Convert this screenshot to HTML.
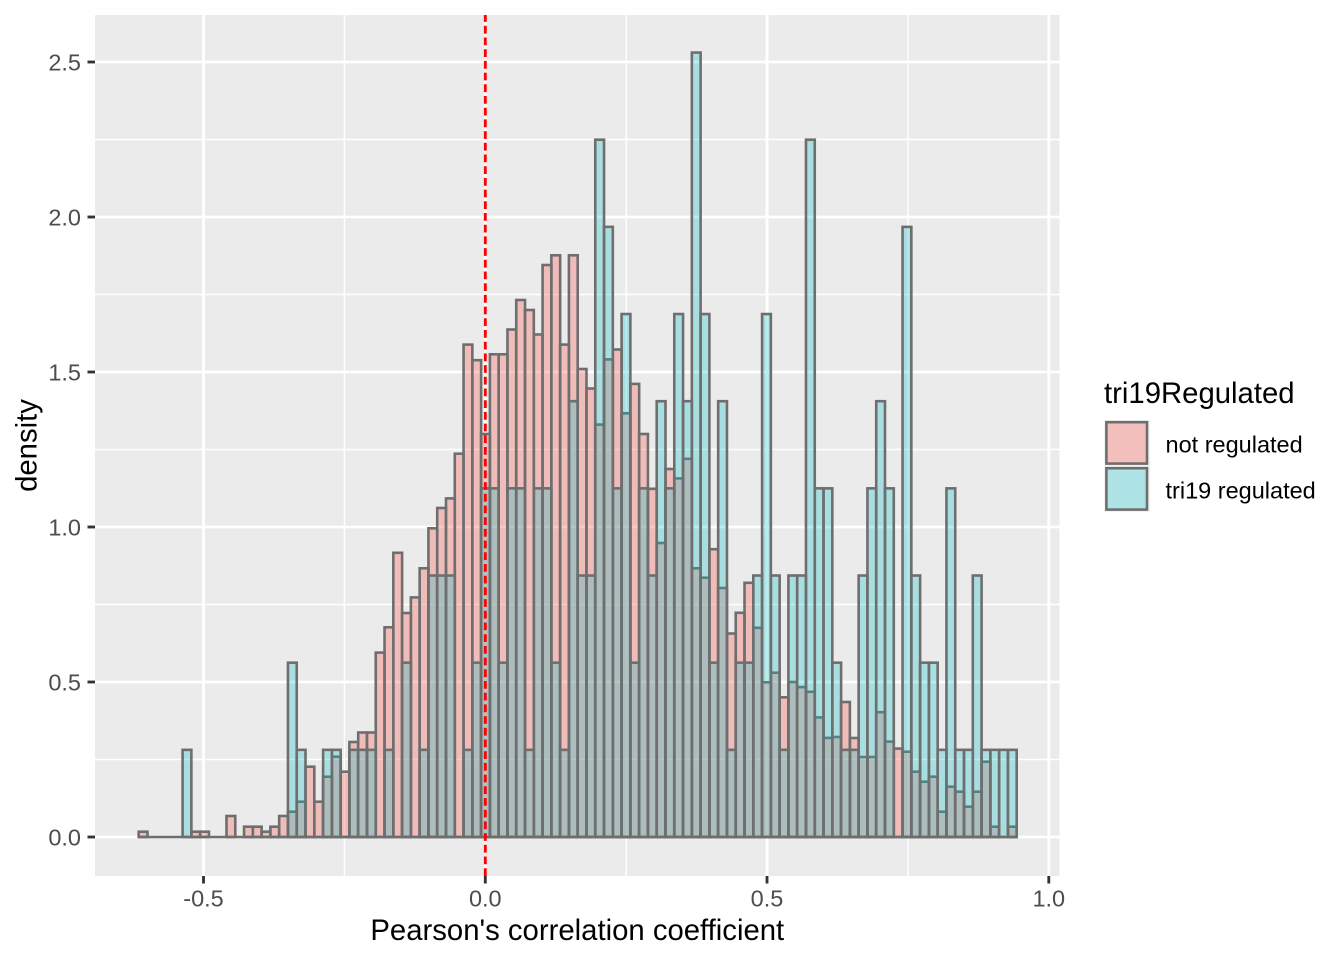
<!DOCTYPE html>
<html><head><meta charset="utf-8"><style>
html,body{margin:0;padding:0;background:#fff;}
svg{display:block;}
text{font-family:"Liberation Sans",Arial,Helvetica,sans-serif;}
</style></head><body>
<svg width="1344" height="960" viewBox="0 0 1344 960" xmlns="http://www.w3.org/2000/svg">
<rect x="0" y="0" width="1344" height="960" fill="#ffffff"/>
<rect x="95" y="15" width="964.5" height="861" fill="#EBEBEB"/>
<g stroke="#ffffff" stroke-width="1.42">
<line x1="95" x2="1059.5" y1="759.5" y2="759.5"/>
<line x1="95" x2="1059.5" y1="604.5" y2="604.5"/>
<line x1="95" x2="1059.5" y1="449.5" y2="449.5"/>
<line x1="95" x2="1059.5" y1="294.5" y2="294.5"/>
<line x1="95" x2="1059.5" y1="139.5" y2="139.5"/>
<line y1="15" y2="876" x1="344.4" x2="344.4"/>
<line y1="15" y2="876" x1="626.2" x2="626.2"/>
<line y1="15" y2="876" x1="907.9" x2="907.9"/>
</g>
<g stroke="#ffffff" stroke-width="2.85">
<line x1="95" x2="1059.5" y1="837" y2="837"/>
<line x1="95" x2="1059.5" y1="682" y2="682"/>
<line x1="95" x2="1059.5" y1="527" y2="527"/>
<line x1="95" x2="1059.5" y1="372" y2="372"/>
<line x1="95" x2="1059.5" y1="217" y2="217"/>
<line x1="95" x2="1059.5" y1="62" y2="62"/>
<line y1="15" y2="876" x1="203.5" x2="203.5"/>
<line y1="15" y2="876" x1="485.3" x2="485.3"/>
<line y1="15" y2="876" x1="767" x2="767"/>
<line y1="15" y2="876" x1="1048.8" x2="1048.8"/>
</g>
<g fill="#F8766D" fill-opacity="0.4" stroke="#6E6E6E" stroke-width="2.6">
<rect x="138.70" y="831.7" width="8.78" height="5.3"/>
<rect x="191.38" y="831.7" width="8.78" height="5.3"/>
<rect x="200.16" y="831.7" width="8.78" height="5.3"/>
<rect x="226.50" y="816" width="8.78" height="21"/>
<rect x="244.06" y="826.7" width="8.78" height="10.3"/>
<rect x="252.84" y="826.7" width="8.78" height="10.3"/>
<rect x="261.62" y="831.7" width="8.78" height="5.3"/>
<rect x="270.40" y="826.7" width="8.78" height="10.3"/>
<rect x="279.18" y="816" width="8.78" height="21"/>
<rect x="287.96" y="811.7" width="8.78" height="25.3"/>
<rect x="296.74" y="801.7" width="8.78" height="35.3"/>
<rect x="305.52" y="766.7" width="8.78" height="70.3"/>
<rect x="314.30" y="801.7" width="8.78" height="35.3"/>
<rect x="323.08" y="776.7" width="8.78" height="60.3"/>
<rect x="331.86" y="756.7" width="8.78" height="80.3"/>
<rect x="340.64" y="771.7" width="8.78" height="65.3"/>
<rect x="349.42" y="742" width="8.78" height="95"/>
<rect x="358.20" y="732.5" width="8.78" height="104.5"/>
<rect x="366.98" y="732.5" width="8.78" height="104.5"/>
<rect x="375.76" y="652.6" width="8.78" height="184.4"/>
<rect x="384.54" y="627.3" width="8.78" height="209.7"/>
<rect x="393.32" y="552.8" width="8.78" height="284.2"/>
<rect x="402.10" y="613" width="8.78" height="224"/>
<rect x="410.88" y="597.4" width="8.78" height="239.6"/>
<rect x="419.66" y="568.3" width="8.78" height="268.7"/>
<rect x="428.44" y="528.3" width="8.78" height="308.7"/>
<rect x="437.22" y="508" width="8.78" height="329"/>
<rect x="446.00" y="498.4" width="8.78" height="338.6"/>
<rect x="454.78" y="453.7" width="8.78" height="383.3"/>
<rect x="463.56" y="344.6" width="8.78" height="492.4"/>
<rect x="472.34" y="360.2" width="8.78" height="476.8"/>
<rect x="481.12" y="434" width="8.78" height="403"/>
<rect x="489.90" y="354.3" width="8.78" height="482.7"/>
<rect x="498.68" y="354.3" width="8.78" height="482.7"/>
<rect x="507.46" y="329.5" width="8.78" height="507.5"/>
<rect x="516.24" y="300" width="8.78" height="537"/>
<rect x="525.02" y="310" width="8.78" height="527"/>
<rect x="533.80" y="334.5" width="8.78" height="502.5"/>
<rect x="542.58" y="265" width="8.78" height="572"/>
<rect x="551.36" y="255.3" width="8.78" height="581.7"/>
<rect x="560.14" y="344.6" width="8.78" height="492.4"/>
<rect x="568.92" y="255.3" width="8.78" height="581.7"/>
<rect x="577.70" y="369" width="8.78" height="468"/>
<rect x="586.48" y="388.5" width="8.78" height="448.5"/>
<rect x="595.26" y="424.6" width="8.78" height="412.4"/>
<rect x="604.04" y="359.4" width="8.78" height="477.6"/>
<rect x="612.82" y="349.5" width="8.78" height="487.5"/>
<rect x="621.60" y="413.3" width="8.78" height="423.7"/>
<rect x="630.38" y="383.9" width="8.78" height="453.1"/>
<rect x="639.16" y="434" width="8.78" height="403"/>
<rect x="647.94" y="488.8" width="8.78" height="348.2"/>
<rect x="656.72" y="543" width="8.78" height="294"/>
<rect x="665.50" y="469" width="8.78" height="368"/>
<rect x="674.28" y="478.4" width="8.78" height="358.6"/>
<rect x="683.06" y="458.8" width="8.78" height="378.2"/>
<rect x="691.84" y="568.3" width="8.78" height="268.7"/>
<rect x="700.62" y="577.7" width="8.78" height="259.3"/>
<rect x="709.40" y="549.2" width="8.78" height="287.8"/>
<rect x="718.18" y="588" width="8.78" height="249"/>
<rect x="726.96" y="633.5" width="8.78" height="203.5"/>
<rect x="735.74" y="612.8" width="8.78" height="224.2"/>
<rect x="744.52" y="582.8" width="8.78" height="254.2"/>
<rect x="753.30" y="627.8" width="8.78" height="209.2"/>
<rect x="762.08" y="682.3" width="8.78" height="154.7"/>
<rect x="770.86" y="672.7" width="8.78" height="164.3"/>
<rect x="779.64" y="697.3" width="8.78" height="139.7"/>
<rect x="788.42" y="682" width="8.78" height="155"/>
<rect x="797.20" y="687.1" width="8.78" height="149.9"/>
<rect x="805.98" y="691.8" width="8.78" height="145.2"/>
<rect x="814.76" y="717.4" width="8.78" height="119.6"/>
<rect x="823.54" y="737.9" width="8.78" height="99.1"/>
<rect x="832.32" y="737" width="8.78" height="100"/>
<rect x="841.10" y="702" width="8.78" height="135"/>
<rect x="849.88" y="738" width="8.78" height="99"/>
<rect x="858.66" y="757" width="8.78" height="80"/>
<rect x="867.44" y="757" width="8.78" height="80"/>
<rect x="876.22" y="712.2" width="8.78" height="124.8"/>
<rect x="885.00" y="741.6" width="8.78" height="95.4"/>
<rect x="893.78" y="748.6" width="8.78" height="88.4"/>
<rect x="902.56" y="751.7" width="8.78" height="85.3"/>
<rect x="911.34" y="771.7" width="8.78" height="65.3"/>
<rect x="920.12" y="781.7" width="8.78" height="55.3"/>
<rect x="928.90" y="776.7" width="8.78" height="60.3"/>
<rect x="937.68" y="811.7" width="8.78" height="25.3"/>
<rect x="946.46" y="786.7" width="8.78" height="50.3"/>
<rect x="955.24" y="791.7" width="8.78" height="45.3"/>
<rect x="964.02" y="806.7" width="8.78" height="30.3"/>
<rect x="972.80" y="791.7" width="8.78" height="45.3"/>
<rect x="981.58" y="761.7" width="8.78" height="75.3"/>
<rect x="990.36" y="826.7" width="8.78" height="10.3"/>
<rect x="1007.92" y="826.7" width="8.78" height="10.3"/>
</g>
<g fill="#00BFC4" fill-opacity="0.28" stroke="#6E6E6E" stroke-width="2.6">
<rect x="182.60" y="749.84" width="8.78" height="87.16"/>
<rect x="287.96" y="662.68" width="8.78" height="174.32"/>
<rect x="296.74" y="749.84" width="8.78" height="87.16"/>
<rect x="323.08" y="749.84" width="8.78" height="87.16"/>
<rect x="331.86" y="749.84" width="8.78" height="87.16"/>
<rect x="349.42" y="749.84" width="8.78" height="87.16"/>
<rect x="358.20" y="749.84" width="8.78" height="87.16"/>
<rect x="366.98" y="749.84" width="8.78" height="87.16"/>
<rect x="384.54" y="749.84" width="8.78" height="87.16"/>
<rect x="402.10" y="662.68" width="8.78" height="174.32"/>
<rect x="419.66" y="749.84" width="8.78" height="87.16"/>
<rect x="428.44" y="575.52" width="8.78" height="261.48"/>
<rect x="437.22" y="575.52" width="8.78" height="261.48"/>
<rect x="446.00" y="575.52" width="8.78" height="261.48"/>
<rect x="463.56" y="749.84" width="8.78" height="87.16"/>
<rect x="472.34" y="662.68" width="8.78" height="174.32"/>
<rect x="481.12" y="488.36" width="8.78" height="348.64"/>
<rect x="489.90" y="488.36" width="8.78" height="348.64"/>
<rect x="498.68" y="662.68" width="8.78" height="174.32"/>
<rect x="507.46" y="488.36" width="8.78" height="348.64"/>
<rect x="516.24" y="488.36" width="8.78" height="348.64"/>
<rect x="525.02" y="749.84" width="8.78" height="87.16"/>
<rect x="533.80" y="488.36" width="8.78" height="348.64"/>
<rect x="542.58" y="488.36" width="8.78" height="348.64"/>
<rect x="551.36" y="662.68" width="8.78" height="174.32"/>
<rect x="560.14" y="749.84" width="8.78" height="87.16"/>
<rect x="568.92" y="401.2" width="8.78" height="435.8"/>
<rect x="577.70" y="575.52" width="8.78" height="261.48"/>
<rect x="586.48" y="575.52" width="8.78" height="261.48"/>
<rect x="595.26" y="139.72" width="8.78" height="697.28"/>
<rect x="604.04" y="226.88" width="8.78" height="610.12"/>
<rect x="612.82" y="488.36" width="8.78" height="348.64"/>
<rect x="621.60" y="314.04" width="8.78" height="522.96"/>
<rect x="630.38" y="662.68" width="8.78" height="174.32"/>
<rect x="639.16" y="488.36" width="8.78" height="348.64"/>
<rect x="647.94" y="575.52" width="8.78" height="261.48"/>
<rect x="656.72" y="401.2" width="8.78" height="435.8"/>
<rect x="665.50" y="488.36" width="8.78" height="348.64"/>
<rect x="674.28" y="314.04" width="8.78" height="522.96"/>
<rect x="683.06" y="401.2" width="8.78" height="435.8"/>
<rect x="691.84" y="52.56" width="8.78" height="784.44"/>
<rect x="700.62" y="314.04" width="8.78" height="522.96"/>
<rect x="709.40" y="662.68" width="8.78" height="174.32"/>
<rect x="718.18" y="401.2" width="8.78" height="435.8"/>
<rect x="726.96" y="749.84" width="8.78" height="87.16"/>
<rect x="735.74" y="662.68" width="8.78" height="174.32"/>
<rect x="744.52" y="662.68" width="8.78" height="174.32"/>
<rect x="753.30" y="575.52" width="8.78" height="261.48"/>
<rect x="762.08" y="314.04" width="8.78" height="522.96"/>
<rect x="770.86" y="575.52" width="8.78" height="261.48"/>
<rect x="779.64" y="749.84" width="8.78" height="87.16"/>
<rect x="788.42" y="575.52" width="8.78" height="261.48"/>
<rect x="797.20" y="575.52" width="8.78" height="261.48"/>
<rect x="805.98" y="139.72" width="8.78" height="697.28"/>
<rect x="814.76" y="488.36" width="8.78" height="348.64"/>
<rect x="823.54" y="488.36" width="8.78" height="348.64"/>
<rect x="832.32" y="662.68" width="8.78" height="174.32"/>
<rect x="841.10" y="749.84" width="8.78" height="87.16"/>
<rect x="849.88" y="749.84" width="8.78" height="87.16"/>
<rect x="858.66" y="575.52" width="8.78" height="261.48"/>
<rect x="867.44" y="488.36" width="8.78" height="348.64"/>
<rect x="876.22" y="401.2" width="8.78" height="435.8"/>
<rect x="885.00" y="488.36" width="8.78" height="348.64"/>
<rect x="902.56" y="226.88" width="8.78" height="610.12"/>
<rect x="911.34" y="575.52" width="8.78" height="261.48"/>
<rect x="920.12" y="662.68" width="8.78" height="174.32"/>
<rect x="928.90" y="662.68" width="8.78" height="174.32"/>
<rect x="937.68" y="749.84" width="8.78" height="87.16"/>
<rect x="946.46" y="488.36" width="8.78" height="348.64"/>
<rect x="955.24" y="749.84" width="8.78" height="87.16"/>
<rect x="964.02" y="749.84" width="8.78" height="87.16"/>
<rect x="972.80" y="575.52" width="8.78" height="261.48"/>
<rect x="981.58" y="749.84" width="8.78" height="87.16"/>
<rect x="990.36" y="749.84" width="8.78" height="87.16"/>
<rect x="999.14" y="749.84" width="8.78" height="87.16"/>
<rect x="1007.92" y="749.84" width="8.78" height="87.16"/>
</g>
<line x1="138.7" x2="1016.7" y1="837" y2="837" stroke="#6E6E6E" stroke-width="2.6"/>
<line x1="485.3" x2="485.3" y1="876" y2="15" stroke="#FF0000" stroke-width="2.85" stroke-dasharray="7.8 3.9"/>
<g stroke="#333333" stroke-width="2.85">
<line x1="87.5" x2="95" y1="837" y2="837"/>
<line x1="87.5" x2="95" y1="682" y2="682"/>
<line x1="87.5" x2="95" y1="527" y2="527"/>
<line x1="87.5" x2="95" y1="372" y2="372"/>
<line x1="87.5" x2="95" y1="217" y2="217"/>
<line x1="87.5" x2="95" y1="62" y2="62"/>
<line y1="876" y2="883.5" x1="203.5" x2="203.5"/>
<line y1="876" y2="883.5" x1="485.3" x2="485.3"/>
<line y1="876" y2="883.5" x1="767" x2="767"/>
<line y1="876" y2="883.5" x1="1048.8" x2="1048.8"/>
</g>
<g fill="#4D4D4D" font-size="23.5" text-anchor="end">
<text x="81" y="845.5">0.0</text>
<text x="81" y="690.5">0.5</text>
<text x="81" y="535.5">1.0</text>
<text x="81" y="380.5">1.5</text>
<text x="81" y="225.5">2.0</text>
<text x="81" y="70.5">2.5</text>
</g>
<g fill="#4D4D4D" font-size="23.5" text-anchor="middle">
<text x="203.5" y="906.5">-0.5</text>
<text x="485.3" y="906.5">0.0</text>
<text x="767" y="906.5">0.5</text>
<text x="1048.8" y="906.5">1.0</text>
</g>
<text x="577.3" y="940" font-size="29.3" fill="#000" text-anchor="middle">Pearson's correlation coefficient</text>
<text transform="translate(36.5,445.5) rotate(-90)" font-size="29.3" fill="#000" text-anchor="middle">density</text>
<text x="1104" y="403" font-size="29.3" fill="#000">tri19Regulated</text>
<rect x="1104" y="420" width="46" height="92" fill="#F2F2F2"/>
<rect x="1106.4" y="422.2" width="40.6" height="41.4" fill="#F8766D" fill-opacity="0.4" stroke="#6E6E6E" stroke-width="2.6"/>
<rect x="1106.4" y="468.2" width="40.6" height="41.4" fill="#00BFC4" fill-opacity="0.28" stroke="#6E6E6E" stroke-width="2.6"/>
<text x="1165.5" y="452.5" font-size="23.5" fill="#000">not regulated</text>
<text x="1165.5" y="498.5" font-size="23.5" fill="#000">tri19 regulated</text>
</svg>
</body></html>
